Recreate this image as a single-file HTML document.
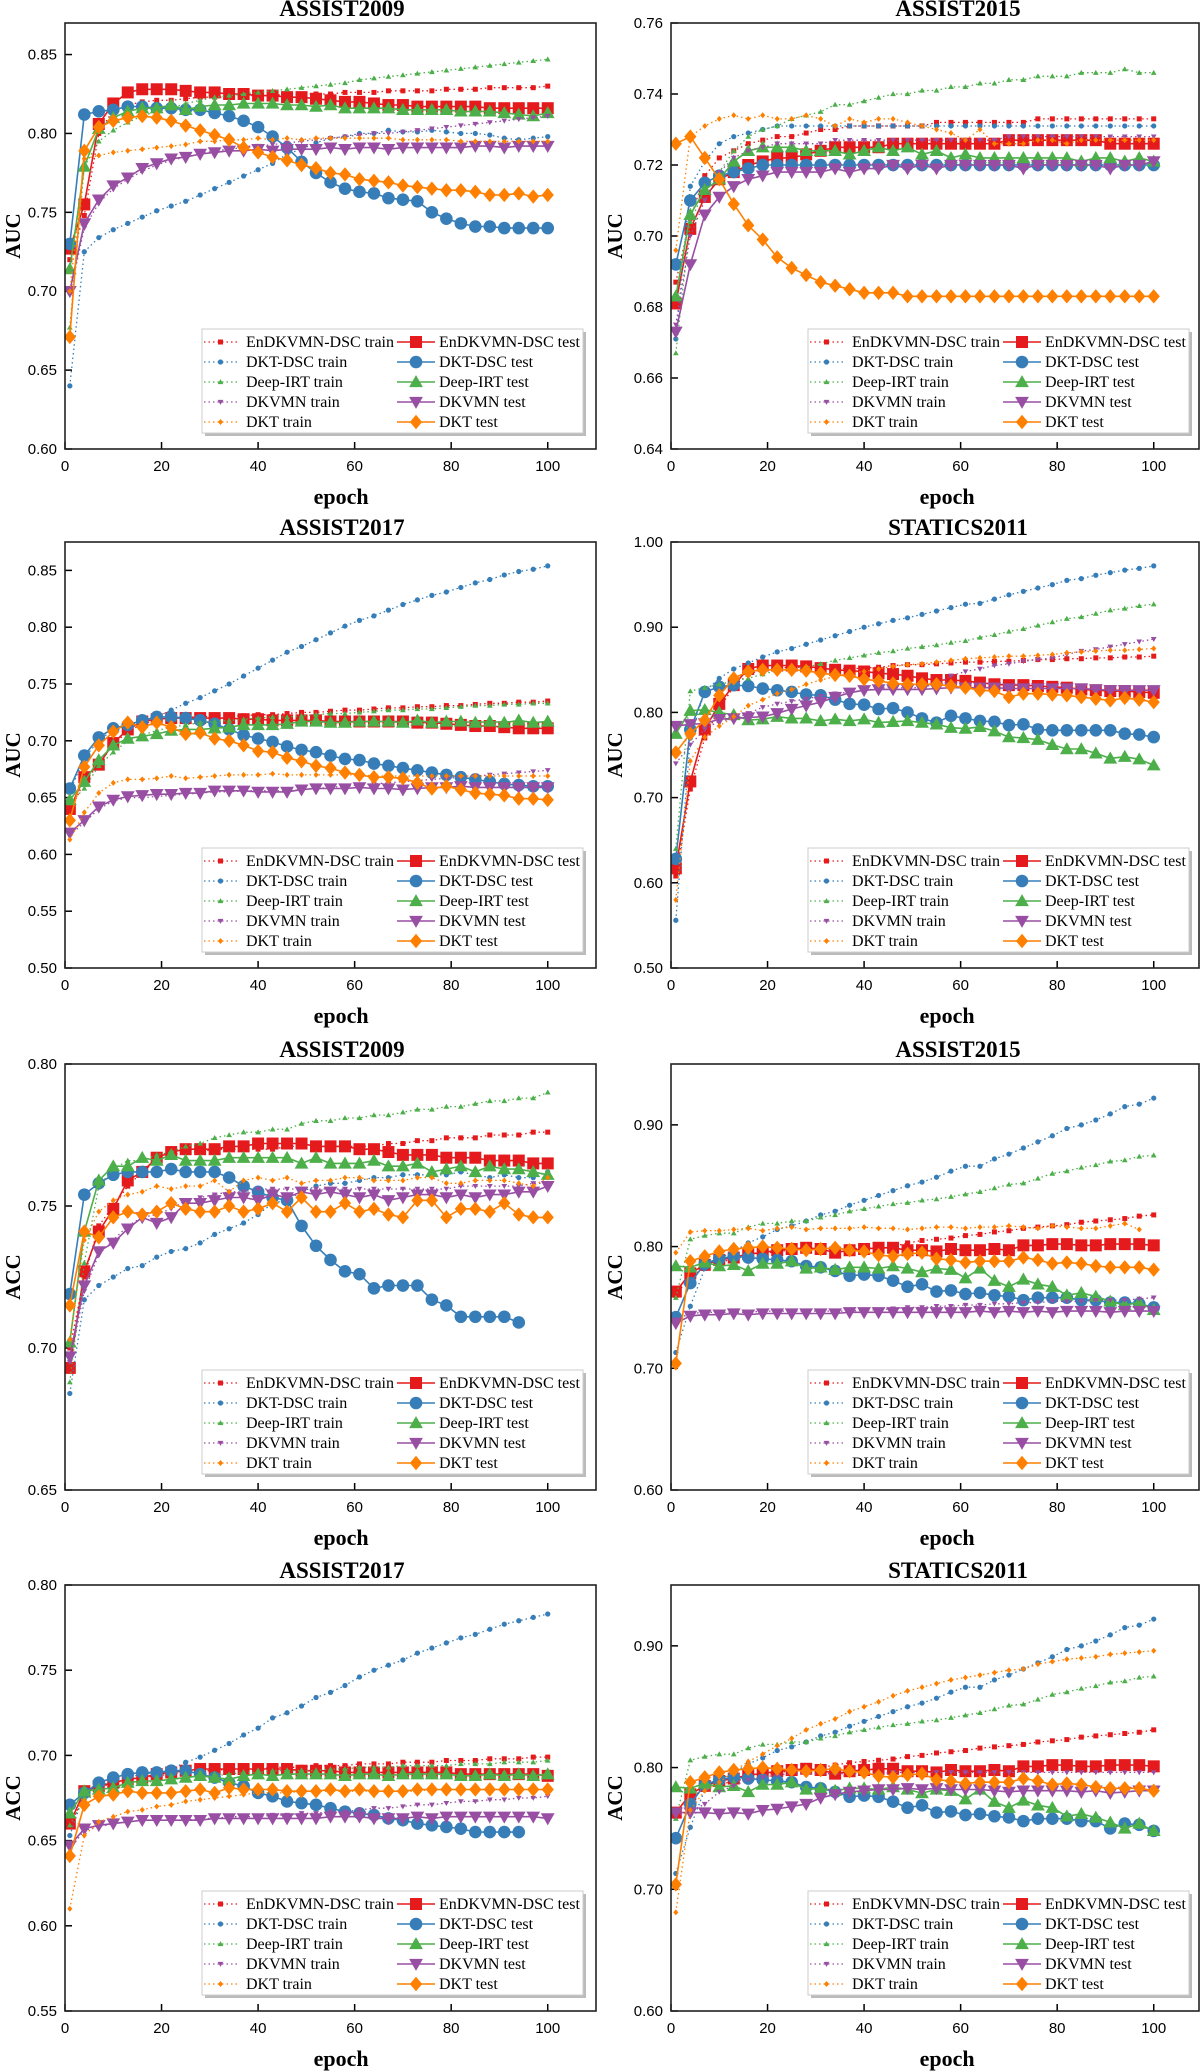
<!DOCTYPE html>
<html><head><meta charset="utf-8"><title>Training curves</title>
<style>
html,body{margin:0;padding:0;background:#fff;}
svg{display:block;}
</style></head>
<body>
<svg id="fig" xmlns="http://www.w3.org/2000/svg" width="1200" height="2072" viewBox="0 0 1200 2072"></svg>
<script>
const epochs = [1,4,7,10,13,16,19,22,25,28,31,34,37,40,43,46,49,52,55,58,61,64,67,70,73,76,79,82,85,88,91,94,97,100];
const seriesNames = ['EnDKVMN-DSC train','EnDKVMN-DSC test','DKT-DSC train','DKT-DSC test','Deep-IRT train','Deep-IRT test','DKVMN train','DKVMN test','DKT train','DKT test'];
const xTicks = [0,20,40,60,80,100];

// Panel 1: AUC ASSIST2009
const p1_en_tr=[.720,.748,.800,.815,.818,.820,.821,.821,.822,.823,.823,.823,.824,.824,.824,.825,.825,.825,.825,.826,.826,.826,.827,.827,.827,.827,.828,.828,.828,.829,.829,.829,.829,.830];
const p1_en_te=[.727,.755,.806,.819,.826,.828,.828,.828,.827,.826,.826,.825,.825,.824,.824,.823,.823,.822,.821,.820,.820,.819,.818,.818,.817,.817,.817,.817,.817,.816,.816,.816,.816,.816];
const p1_dsc_tr=[.640,.725,.734,.739,.743,.747,.751,.754,.757,.761,.765,.769,.773,.777,.781,.787,.790,.794,.797,.798,.800,.800,.802,.801,.801,.802,.801,.800,.800,.799,.797,.796,.797,.798];
const p1_dsc_te=[.730,.812,.814,.815,.817,.817,.816,.816,.815,.815,.813,.811,.808,.804,.798,.791,.782,.775,.769,.765,.763,.762,.759,.758,.757,.750,.746,.743,.741,.741,.740,.740,.740,.740];
const p1_irt_tr=[.677,.779,.795,.802,.807,.811,.814,.816,.819,.821,.823,.824,.825,.826,.827,.828,.829,.830,.831,.832,.834,.835,.836,.837,.838,.839,.840,.841,.842,.843,.844,.845,.846,.847];
const p1_irt_te=[.714,.779,.803,.810,.814,.816,.816,.818,.815,.817,.818,.818,.819,.819,.819,.818,.818,.817,.818,.816,.816,.816,.816,.815,.815,.815,.815,.814,.814,.814,.813,.812,.811,.813];
const p1_kv_tr=[.698,.740,.756,.765,.771,.776,.780,.783,.785,.787,.789,.790,.791,.792,.793,.794,.795,.796,.797,.798,.799,.800,.800,.801,.802,.803,.804,.805,.806,.807,.808,.809,.810,.811];
const p1_kv_te=[.700,.743,.758,.767,.772,.778,.781,.784,.785,.787,.788,.789,.789,.790,.789,.790,.790,.790,.791,.790,.791,.791,.790,.791,.791,.791,.791,.791,.792,.792,.791,.792,.792,.792];
const p1_dkt_tr=[.700,.784,.786,.788,.789,.790,.791,.792,.793,.795,.795,.796,.796,.797,.796,.797,.796,.797,.797,.797,.797,.797,.797,.796,.796,.796,.796,.795,.795,.795,.795,.795,.795,.795];
const p1_dkt_te=[.671,.789,.804,.808,.810,.811,.810,.808,.805,.802,.799,.796,.791,.788,.785,.783,.780,.778,.775,.774,.771,.770,.769,.767,.766,.765,.764,.764,.763,.761,.761,.762,.760,.761];

// Panel 2: AUC ASSIST2015
const p2_en_tr=[.687,.705,.717,.722,.724,.726,.727,.728,.728,.729,.730,.730,.731,.731,.731,.731,.731,.731,.732,.732,.732,.732,.732,.732,.732,.733,.733,.733,.733,.733,.733,.733,.733,.733];
const p2_en_te=[.681,.702,.711,.716,.718,.720,.721,.722,.722,.723,.724,.725,.725,.725,.725,.726,.726,.726,.726,.726,.726,.726,.726,.727,.727,.727,.727,.727,.727,.727,.726,.726,.726,.726];
const p2_dsc_tr=[.671,.714,.721,.726,.728,.729,.730,.731,.731,.731,.731,.731,.731,.731,.731,.731,.731,.731,.731,.731,.731,.731,.731,.731,.731,.731,.731,.731,.731,.731,.731,.731,.731,.731];
const p2_dsc_te=[.692,.710,.715,.717,.718,.719,.720,.720,.720,.720,.720,.720,.720,.720,.720,.720,.720,.720,.720,.720,.720,.720,.720,.720,.720,.720,.720,.720,.720,.720,.720,.720,.720,.720];
const p2_irt_tr=[.667,.704,.713,.718,.724,.728,.730,.731,.733,.734,.735,.737,.737,.738,.739,.740,.740,.741,.741,.742,.742,.743,.743,.744,.744,.745,.745,.745,.746,.746,.746,.747,.746,.746];
const p2_irt_te=[.683,.706,.713,.716,.721,.724,.725,.725,.725,.724,.724,.724,.723,.724,.725,.724,.725,.723,.724,.722,.723,.722,.722,.722,.722,.722,.722,.722,.721,.722,.722,.721,.722,.721];
const p2_kv_tr=[.675,.700,.710,.718,.722,.724,.725,.726,.726,.726,.726,.727,.727,.727,.727,.727,.727,.727,.727,.727,.727,.727,.727,.728,.728,.728,.728,.728,.728,.728,.728,.728,.728,.728];
const p2_kv_te=[.673,.692,.706,.711,.714,.716,.717,.718,.718,.718,.718,.719,.718,.719,.719,.720,.719,.720,.719,.720,.720,.720,.720,.720,.719,.720,.720,.720,.720,.720,.719,.720,.720,.721];
const p2_dkt_tr=[.696,.728,.731,.733,.734,.733,.734,.733,.733,.734,.733,.731,.733,.732,.733,.733,.732,.731,.730,.729,.727,.730,.726,.726,.726,.727,.727,.726,.727,.727,.727,.727,.727,.727];
const p2_dkt_te=[.726,.728,.722,.716,.709,.703,.699,.694,.691,.689,.687,.686,.685,.684,.684,.684,.683,.683,.683,.683,.683,.683,.683,.683,.683,.683,.683,.683,.683,.683,.683,.683,.683,.683];

// Panel 3: AUC ASSIST2017
const p3_en_tr=[.638,.664,.679,.697,.708,.715,.718,.720,.721,.721,.722,.722,.722,.723,.723,.724,.725,.725,.726,.727,.727,.728,.729,.729,.730,.730,.731,.731,.732,.733,.733,.734,.734,.735];
const p3_en_te=[.640,.668,.679,.698,.710,.717,.719,.720,.720,.720,.720,.720,.719,.719,.718,.718,.718,.718,.717,.717,.717,.717,.717,.717,.716,.716,.715,.714,.713,.713,.712,.711,.711,.711];
const p3_dsc_tr=[.655,.685,.700,.710,.713,.717,.721,.727,.733,.738,.744,.750,.757,.764,.771,.778,.783,.789,.795,.801,.806,.810,.815,.820,.824,.828,.831,.835,.839,.842,.846,.849,.851,.854];
const p3_dsc_te=[.658,.687,.703,.711,.714,.718,.721,.721,.720,.718,.715,.710,.705,.702,.699,.695,.692,.690,.687,.684,.683,.680,.678,.676,.674,.672,.670,.668,.666,.664,.662,.661,.660,.660];
const p3_irt_tr=[.645,.658,.678,.690,.700,.705,.709,.712,.714,.716,.717,.718,.719,.720,.721,.721,.722,.723,.724,.724,.725,.726,.727,.727,.728,.728,.729,.730,.731,.731,.732,.732,.733,.733];
const p3_irt_te=[.648,.664,.683,.696,.702,.704,.706,.709,.710,.710,.711,.712,.714,.714,.714,.715,.717,.717,.716,.716,.717,.717,.717,.716,.718,.716,.717,.717,.716,.717,.716,.718,.716,.717];
const p3_kv_tr=[.617,.628,.640,.647,.650,.650,.651,.652,.653,.654,.655,.655,.656,.656,.656,.656,.657,.658,.659,.660,.661,.662,.663,.664,.665,.666,.667,.668,.669,.670,.671,.672,.673,.674];
const p3_kv_te=[.619,.630,.642,.648,.651,.652,.653,.653,.654,.654,.656,.656,.656,.655,.655,.655,.657,.658,.658,.658,.659,.658,.658,.657,.658,.659,.659,.660,.659,.659,.659,.659,.659,.659];
const p3_dkt_tr=[.613,.637,.654,.663,.666,.666,.667,.669,.667,.668,.669,.670,.670,.670,.671,.670,.670,.670,.670,.670,.670,.669,.669,.669,.669,.669,.669,.669,.669,.669,.669,.669,.669,.669];
const p3_dkt_te=[.630,.677,.696,.708,.716,.712,.716,.712,.706,.707,.702,.700,.696,.691,.690,.685,.682,.678,.676,.672,.670,.668,.668,.667,.663,.658,.660,.657,.654,.653,.652,.649,.649,.648];

// Panel 4: AUC STATICS2011
const p4_en_tr=[.608,.710,.770,.805,.830,.845,.850,.852,.853,.853,.853,.852,.851,.852,.853,.855,.856,.856,.857,.858,.859,.859,.860,.860,.861,.862,.862,.863,.863,.864,.864,.865,.865,.866];
const p4_en_te=[.617,.719,.780,.810,.832,.851,.855,.855,.855,.854,.852,.850,.849,.848,.846,.845,.843,.840,.838,.838,.837,.835,.833,.832,.832,.831,.830,.829,.827,.826,.825,.825,.824,.823];
const p4_dsc_tr=[.556,.770,.825,.840,.851,.858,.865,.871,.875,.880,.885,.890,.895,.900,.904,.908,.911,.915,.919,.923,.927,.928,.933,.938,.942,.946,.950,.955,.957,.961,.964,.967,.969,.972];
const p4_dsc_te=[.628,.780,.824,.830,.832,.831,.828,.826,.824,.821,.820,.815,.810,.809,.804,.805,.800,.793,.788,.796,.793,.790,.789,.785,.786,.780,.779,.779,.779,.779,.779,.775,.774,.771];
const p4_irt_tr=[.640,.825,.829,.833,.837,.840,.845,.849,.851,.853,.857,.861,.864,.867,.870,.872,.875,.877,.879,.882,.884,.888,.891,.895,.898,.902,.906,.910,.912,.916,.920,.922,.925,.927];
const p4_irt_te=[.775,.802,.803,.800,.797,.791,.792,.795,.793,.793,.790,.792,.790,.792,.788,.789,.790,.788,.786,.782,.781,.783,.778,.771,.770,.768,.762,.757,.757,.752,.746,.748,.745,.738];
const p4_kv_tr=[.740,.762,.780,.790,.792,.799,.806,.810,.813,.816,.819,.822,.824,.826,.828,.830,.828,.830,.833,.843,.848,.851,.855,.857,.860,.862,.864,.868,.872,.874,.877,.880,.883,.886];
const p4_kv_te=[.784,.786,.787,.792,.793,.794,.795,.799,.804,.808,.812,.818,.823,.826,.827,.827,.827,.827,.828,.829,.829,.829,.829,.828,.828,.828,.828,.828,.828,.827,.826,.826,.826,.826];
const p4_dkt_tr=[.580,.743,.771,.784,.795,.808,.815,.822,.827,.833,.838,.842,.846,.848,.851,.854,.856,.857,.859,.861,.863,.864,.865,.866,.866,.867,.868,.870,.871,.872,.873,.873,.874,.875];
const p4_dkt_te=[.753,.775,.791,.820,.840,.848,.850,.850,.850,.849,.846,.844,.843,.839,.837,.834,.833,.833,.833,.831,.829,.826,.825,.818,.822,.822,.821,.820,.818,.816,.814,.817,.815,.812];

// Panel 5: ACC ASSIST2009
const p5_en_tr=[.700,.725,.743,.750,.757,.762,.766,.768,.769,.769,.770,.770,.770,.770,.770,.771,.771,.771,.771,.771,.771,.771,.772,.772,.773,.773,.774,.774,.774,.775,.775,.775,.776,.776];
const p5_en_te=[.693,.727,.741,.749,.759,.762,.767,.769,.770,.770,.770,.771,.771,.772,.772,.772,.772,.771,.771,.771,.770,.770,.769,.768,.768,.768,.767,.767,.767,.766,.766,.766,.765,.765];
const p5_dsc_tr=[.684,.717,.722,.725,.728,.729,.732,.734,.735,.737,.740,.742,.744,.747,.751,.752,.755,.757,.758,.758,.759,.760,.760,.761,.761,.761,.761,.762,.761,.760,.761,.760,.760,.762];
const p5_dsc_te=[.719,.754,.758,.761,.762,.762,.762,.763,.762,.762,.762,.760,.757,.755,.753,.752,.743,.736,.731,.727,.726,.721,.722,.722,.722,.717,.715,.711,.711,.711,.711,.709,null,null];
const p5_irt_tr=[.688,.730,.757,.763,.766,.766,.768,.769,.771,.772,.774,.775,.776,.776,.777,.777,.779,.780,.780,.781,.781,.782,.782,.783,.784,.784,.785,.785,.786,.787,.787,.788,.788,.790];
const p5_irt_te=[.702,.741,.759,.764,.764,.767,.766,.768,.766,.766,.766,.767,.767,.767,.767,.767,.765,.767,.765,.765,.765,.766,.764,.764,.765,.762,.763,.764,.762,.764,.763,.763,.762,.761];
const p5_kv_tr=[.695,.720,.733,.738,.743,.746,.747,.749,.752,.753,.754,.755,.755,.756,.756,.756,.756,.756,.756,.756,.756,.756,.756,.756,.756,.756,.756,.757,.757,.757,.757,.757,.758,.758];
const p5_kv_te=[.697,.722,.734,.737,.742,.746,.744,.746,.751,.751,.752,.753,.753,.752,.754,.753,.755,.754,.755,.754,.753,.754,.752,.753,.754,.754,.753,.754,.753,.754,.754,.755,.755,.757];
const p5_dkt_tr=[.703,.738,.748,.752,.754,.755,.757,.756,.757,.757,.759,.755,.759,.760,.759,.760,.758,.759,.759,.760,.760,.759,.759,.759,.760,.760,.758,.758,.759,.759,.759,.758,.757,.760];
const p5_dkt_te=[.715,.741,.739,.746,.748,.747,.748,.751,.749,.748,.748,.750,.748,.749,.751,.748,.753,.748,.748,.751,.748,.749,.747,.746,.752,.752,.746,.749,.749,.748,.751,.747,.746,.746];

// Panel 6: ACC ASSIST2015
const p6_en_tr=[.760,.776,.782,.787,.790,.792,.794,.796,.797,.798,.798,.798,.798,.799,.799,.800,.803,.805,.806,.807,.809,.810,.812,.813,.815,.816,.817,.818,.820,.821,.822,.823,.825,.826];
const p6_en_te=[.763,.778,.785,.789,.791,.794,.795,.797,.798,.799,.798,.795,.797,.798,.799,.799,.797,.797,.796,.798,.797,.797,.798,.797,.801,.801,.802,.802,.801,.801,.802,.802,.802,.801];
const p6_dsc_tr=[.713,.751,.782,.790,.796,.803,.808,.814,.817,.821,.826,.829,.834,.838,.842,.846,.850,.853,.857,.862,.866,.866,.872,.876,.881,.886,.891,.897,.900,.904,.909,.915,.917,.922];
const p6_dsc_te=[.742,.770,.786,.790,.792,.791,.790,.789,.788,.784,.783,.780,.776,.777,.776,.772,.767,.769,.763,.764,.761,.762,.760,.759,.756,.758,.758,.758,.756,.756,.754,.754,.753,.750];
const p6_irt_tr=[.758,.806,.809,.811,.811,.816,.819,.819,.821,.821,.824,.826,.829,.831,.833,.835,.836,.838,.839,.841,.843,.845,.848,.851,.852,.856,.860,.862,.865,.867,.870,.871,.874,.875];
const p6_irt_te=[.784,.783,.787,.784,.785,.780,.786,.786,.788,.782,.783,.781,.783,.783,.782,.784,.782,.779,.782,.781,.774,.782,.772,.767,.773,.769,.767,.760,.762,.759,.755,.752,.754,.748];
const p6_kv_tr=[.740,.745,.746,.746,.746,.746,.747,.747,.747,.747,.747,.747,.747,.748,.748,.749,.750,.750,.751,.751,.752,.752,.753,.753,.754,.754,.755,.755,.755,.756,.756,.756,.757,.758];
const p6_kv_te=[.737,.743,.744,.744,.745,.744,.745,.745,.745,.745,.745,.745,.746,.746,.746,.746,.746,.746,.746,.746,.746,.747,.746,.747,.746,.747,.746,.747,.747,.747,.746,.747,.747,.747];
const p6_dkt_tr=[.795,.812,.813,.813,.814,.815,.813,.815,.816,.814,.815,.815,.815,.816,.815,.815,.814,.815,.816,.816,.815,.816,.816,.817,.816,.815,.817,.816,.815,.815,.817,.819,.814,null];
const p6_dkt_te=[.704,.788,.792,.796,.798,.799,.800,.799,.798,.797,.798,.799,.797,.796,.793,.792,.794,.795,.790,.789,.787,.788,.788,.788,.791,.789,.786,.787,.786,.784,.783,.783,.783,.781];

// Panel 7: ACC ASSIST2017
const p7_en_tr=[.658,.677,.681,.684,.686,.687,.688,.689,.690,.691,.691,.692,.692,.692,.693,.693,.693,.694,.694,.694,.695,.695,.695,.696,.696,.696,.697,.697,.697,.698,.698,.698,.699,.699];
const p7_en_te=[.660,.679,.682,.684,.686,.687,.689,.690,.691,.692,.692,.692,.692,.692,.692,.692,.691,.691,.691,.690,.690,.690,.690,.690,.690,.690,.690,.689,.689,.689,.689,.689,.689,.688];
const p7_dsc_tr=[.653,.678,.682,.685,.687,.689,.690,.692,.696,.699,.703,.707,.712,.716,.722,.725,.729,.734,.737,.741,.746,.750,.753,.756,.760,.763,.766,.769,.771,.774,.777,.779,.781,.783];
const p7_dsc_te=[.671,.678,.684,.687,.689,.690,.690,.691,.691,.689,.687,.684,.682,.678,.676,.673,.672,.671,.669,.667,.666,.665,.663,.662,.660,.659,.658,.657,.655,.655,.655,.655,null,null];
const p7_irt_tr=[.659,.675,.676,.680,.683,.684,.685,.686,.687,.688,.688,.689,.690,.690,.691,.691,.691,.691,.692,.692,.693,.693,.693,.694,.694,.694,.694,.695,.695,.695,.696,.696,.696,.697];
const p7_irt_te=[.666,.679,.680,.681,.684,.685,.685,.686,.687,.688,.687,.686,.688,.689,.688,.689,.689,.689,.689,.688,.689,.689,.688,.689,.689,.689,.689,.688,.688,.689,.688,.689,.688,.689];
const p7_kv_tr=[.645,.656,.658,.660,.661,.662,.662,.662,.662,.663,.663,.664,.664,.664,.665,.665,.666,.666,.667,.667,.668,.669,.669,.670,.671,.671,.672,.673,.673,.674,.674,.675,.675,.676];
const p7_kv_te=[.647,.657,.659,.660,.661,.662,.662,.662,.662,.662,.663,.663,.663,.663,.663,.663,.663,.663,.664,.664,.664,.663,.663,.663,.664,.663,.664,.664,.664,.664,.664,.664,.664,.663];
const p7_dkt_tr=[.610,.653,.661,.664,.667,.668,.670,.671,.673,.674,.675,.676,.677,.678,.678,.678,.679,.679,.679,.679,.679,.679,.679,.679,.679,.680,.680,.680,.680,.680,.680,.680,.680,.680];
const p7_dkt_te=[.641,.671,.676,.677,.679,.678,.678,.678,.679,.680,.678,.681,.680,.680,.680,.679,.679,.679,.680,.679,.680,.679,.679,.679,.680,.680,.680,.680,.680,.680,.680,.680,.680,.680];

// Panel 8: ACC STATICS2011
const p8_en_tr=[.760,.776,.782,.786,.789,.791,.793,.796,.797,.798,.800,.802,.804,.805,.806,.807,.809,.810,.812,.813,.814,.816,.817,.818,.819,.821,.822,.823,.825,.826,.827,.828,.829,.831];
const p8_en_te=[.763,.778,.785,.789,.791,.794,.795,.797,.798,.799,.798,.795,.797,.798,.799,.799,.797,.797,.796,.798,.797,.797,.798,.797,.801,.801,.802,.802,.801,.801,.802,.802,.802,.801];
const p8_dsc_tr=[.713,.751,.782,.790,.796,.803,.808,.814,.817,.821,.826,.829,.834,.838,.842,.846,.850,.853,.857,.862,.866,.866,.872,.876,.881,.886,.891,.897,.900,.904,.909,.915,.917,.922];
const p8_dsc_te=[.742,.770,.786,.790,.792,.791,.790,.789,.788,.784,.783,.780,.776,.777,.776,.772,.767,.769,.763,.764,.761,.762,.760,.759,.756,.758,.758,.758,.756,.756,.750,.754,.753,.748];
const p8_irt_tr=[.758,.806,.809,.811,.811,.816,.819,.819,.821,.821,.824,.826,.829,.831,.833,.835,.836,.838,.839,.841,.843,.845,.848,.851,.852,.856,.860,.862,.865,.867,.870,.871,.874,.875];
const p8_irt_te=[.784,.783,.787,.784,.785,.780,.786,.786,.788,.782,.783,.781,.783,.783,.782,.784,.782,.779,.782,.781,.774,.782,.772,.767,.773,.769,.767,.760,.762,.759,.755,.750,.754,.748];
const p8_kv_tr=[.760,.764,.770,.780,.785,.790,.792,.794,.795,.795,.795,.795,.795,.795,.795,.796,.796,.796,.796,.796,.796,.796,.796,.796,.796,.796,.796,.796,.796,.796,.796,.796,.796,.796];
const p8_kv_te=[.763,.763,.763,.762,.763,.762,.765,.766,.768,.770,.775,.778,.780,.781,.782,.782,.783,.782,.783,.782,.782,.782,.781,.780,.781,.781,.781,.781,.780,.781,.779,.780,.781,.781];
const p8_dkt_tr=[.681,.765,.781,.788,.797,.805,.811,.818,.824,.831,.836,.840,.846,.850,.854,.859,.863,.866,.869,.872,.874,.876,.878,.880,.881,.885,.887,.889,.890,.891,.893,.894,.895,.896];
const p8_dkt_te=[.704,.788,.792,.796,.798,.799,.800,.799,.798,.797,.798,.799,.797,.796,.793,.792,.794,.795,.790,.789,.787,.788,.788,.788,.791,.789,.786,.787,.786,.784,.783,.783,.783,.781];

const p1_yticks=[.60,.65,.70,.75,.80,.85];
const p2_yticks=[.64,.66,.68,.70,.72,.74,.76];
const p3_yticks=[.50,.55,.60,.65,.70,.75,.80,.85];
const p4_yticks=[.50,.60,.70,.80,.90,1.00];
const p5_yticks=[.65,.70,.75,.80];
const p6_yticks=[.60,.70,.80,.90];
const p7_yticks=[.55,.60,.65,.70,.75,.80];
const p8_yticks=[.60,.70,.80,.90];

const panels=[
 {id:'auc-assist2009',title:'ASSIST2009',yl:'AUC',col:0,row:0,ymin:.60,ymax:.87,yt:p1_yticks,s:[p1_en_tr,p1_en_te,p1_dsc_tr,p1_dsc_te,p1_irt_tr,p1_irt_te,p1_kv_tr,p1_kv_te,p1_dkt_tr,p1_dkt_te]},
 {id:'auc-assist2015',title:'ASSIST2015',yl:'AUC',col:1,row:0,ymin:.64,ymax:.76,yt:p2_yticks,s:[p2_en_tr,p2_en_te,p2_dsc_tr,p2_dsc_te,p2_irt_tr,p2_irt_te,p2_kv_tr,p2_kv_te,p2_dkt_tr,p2_dkt_te]},
 {id:'auc-assist2017',title:'ASSIST2017',yl:'AUC',col:0,row:1,ymin:.50,ymax:.875,yt:p3_yticks,s:[p3_en_tr,p3_en_te,p3_dsc_tr,p3_dsc_te,p3_irt_tr,p3_irt_te,p3_kv_tr,p3_kv_te,p3_dkt_tr,p3_dkt_te]},
 {id:'auc-statics2011',title:'STATICS2011',yl:'AUC',col:1,row:1,ymin:.50,ymax:1.00,yt:p4_yticks,s:[p4_en_tr,p4_en_te,p4_dsc_tr,p4_dsc_te,p4_irt_tr,p4_irt_te,p4_kv_tr,p4_kv_te,p4_dkt_tr,p4_dkt_te]},
 {id:'acc-assist2009',title:'ASSIST2009',yl:'ACC',col:0,row:2,ymin:.65,ymax:.80,yt:p5_yticks,s:[p5_en_tr,p5_en_te,p5_dsc_tr,p5_dsc_te,p5_irt_tr,p5_irt_te,p5_kv_tr,p5_kv_te,p5_dkt_tr,p5_dkt_te]},
 {id:'acc-assist2015',title:'ASSIST2015',yl:'ACC',col:1,row:2,ymin:.60,ymax:.95,yt:p6_yticks,s:[p6_en_tr,p6_en_te,p6_dsc_tr,p6_dsc_te,p6_irt_tr,p6_irt_te,p6_kv_tr,p6_kv_te,p6_dkt_tr,p6_dkt_te]},
 {id:'acc-assist2017',title:'ASSIST2017',yl:'ACC',col:0,row:3,ymin:.55,ymax:.80,yt:p7_yticks,s:[p7_en_tr,p7_en_te,p7_dsc_tr,p7_dsc_te,p7_irt_tr,p7_irt_te,p7_kv_tr,p7_kv_te,p7_dkt_tr,p7_dkt_te]},
 {id:'acc-statics2011',title:'STATICS2011',yl:'ACC',col:1,row:3,ymin:.60,ymax:.95,yt:p8_yticks,s:[p8_en_tr,p8_en_te,p8_dsc_tr,p8_dsc_te,p8_irt_tr,p8_irt_te,p8_kv_tr,p8_kv_te,p8_dkt_tr,p8_dkt_te]}
];

const NS='http://www.w3.org/2000/svg';
const svg=document.getElementById('fig');
const COLORS=['#e41a1c','#377eb8','#4daf4a','#984ea3','#ff7f00'];
const MARKS=['square','circle','tri','tridown','diamond'];
const COLX=[65,671], ROWY=[23,542,1064,1585], BW=531, BH=426, XMAX=110;
function el(tag,attrs,parent){const e=document.createElementNS(NS,tag);for(const k in attrs)e.setAttribute(k,attrs[k]);(parent||svg).appendChild(e);return e;}
function marker(g,type,cx,cy,sz,color){
  let m;const h=sz/2;
  if(type==='square'){m=el('rect',{x:cx-h,y:cy-h,width:sz,height:sz,fill:color},g);}
  else if(type==='circle'){m=el('circle',{cx:cx,cy:cy,r:h*1.05,fill:color},g);}
  else if(type==='tri'){const a=h*1.15;m=el('polygon',{points:`${cx},${cy-a} ${cx+a},${cy+a*0.75} ${cx-a},${cy+a*0.75}`,fill:color},g);}
  else if(type==='tridown'){const a=h*1.15;m=el('polygon',{points:`${cx},${cy+a} ${cx+a},${cy-a*0.75} ${cx-a},${cy-a*0.75}`,fill:color},g);}
  else {const a=h*1.2;m=el('polygon',{points:`${cx},${cy-a} ${cx+a*0.85},${cy} ${cx},${cy+a} ${cx-a*0.85},${cy}`,fill:color},g);}
  return m;
}
panels.forEach((p,pi)=>{
  const L=COLX[p.col], T=ROWY[p.row], R=Math.min(L+BW,1199), B=T+BH;
  const xs=e=>L+e/XMAX*BW;
  const ys=v=>B-(v-p.ymin)/(p.ymax-p.ymin)*BH;
  const g=el('g',{});
  
  
  const cid='clip'+pi;
  const cp=el('clipPath',{id:cid},g);el('rect',{x:L,y:T,width:R-L,height:BH},cp);
  // title
  const t=el('text',{x:p.col?958:342,y:T-7,'text-anchor':'middle','font-family':'Liberation Serif, serif','font-weight':'bold','font-size':23},g);
  t.textContent=p.title;
  
  
  // y label
  const yl=el('text',{x:0,y:0,transform:`translate(${p.col?622:20},${T+BH/2}) rotate(-90)`,'text-anchor':'middle','font-family':'Liberation Serif, serif','font-weight':'bold','font-size':21},g);
  yl.textContent=p.yl;
  
  
  // x label
  const xl=el('text',{x:L+BW*0.52,y:B+55,'text-anchor':'middle','font-family':'Liberation Serif, serif','font-weight':'bold','font-size':22},g);
  xl.textContent='epoch';
  
  
  // y ticks
  p.yt.forEach(v=>{
    const y=ys(v);
    el('line',{x1:L,x2:L+7,y1:y,y2:y,stroke:'#000','stroke-width':1.5},g);
    const tl=el('text',{x:L-8,y:y+5,'text-anchor':'end','font-family':'Liberation Sans, sans-serif','font-size':15},g);
    tl.textContent=v.toFixed(2);
    
    
  });
  xTicks.forEach(v=>{
    const x=xs(v);
    el('line',{x1:x,x2:x,y1:B,y2:B-7,stroke:'#000','stroke-width':1.5},g);
    const tl=el('text',{x:x,y:B+22,'text-anchor':'middle','font-family':'Liberation Sans, sans-serif','font-size':15},g);
    tl.textContent=String(v);
    
    
  });
  // series
  const sg=el('g',{'clip-path':`url(#${cid})`},g);
  p.s.forEach((arr,si)=>{
    const c=COLORS[si>>1], mk=MARKS[si>>1], test=si%2===1;
    const ser=el('g',{},sg);
    
    
    let d='',pen=false;
    arr.forEach((v,i)=>{ if(v===null){pen=false;return;} d+=(pen?'L':'M')+xs(epochs[i]).toFixed(1)+' '+ys(v).toFixed(1)+' '; pen=true; });
    const path=el('path',{d:d,fill:'none',stroke:c,'stroke-width':test?1.6:1.3},ser);
    if(!test) path.setAttribute('stroke-dasharray','1.5 3');
    
    
    arr.forEach((v,i)=>{ if(v===null)return;
      const m=marker(ser,mk,xs(epochs[i]),ys(v),test?12:5,c);
      
      
    });
  });
  // box
  el('rect',{x:L,y:T,width:R-L,height:BH,fill:'none',stroke:'#222','stroke-width':1.6},g);
  // legend
  const lg=el('g',{},g);
  
  
  const lx=L+137, ly=T+306;
  el('rect',{x:lx+3,y:ly+3,width:381,height:104,fill:'#bbb'},lg);
  el('rect',{x:lx,y:ly,width:381,height:104,fill:'#fff',stroke:'#ccc','stroke-width':1},lg);
  for(let k=0;k<10;k++){
    const colI=k%2, rowI=k>>1, c=COLORS[rowI], mk=MARKS[rowI], test=colI===1;
    const cy=ly+13+rowI*20;
    const x1=colI?lx+195:lx+2, x2=colI?lx+233:lx+35, tx=colI?lx+237:lx+44;
    const ent=el('g',{},lg);
    
    
    const ln=el('line',{x1:x1,x2:x2,y1:cy,y2:cy,stroke:c,'stroke-width':test?1.6:1.3},ent);
    if(!test) ln.setAttribute('stroke-dasharray','1.5 3');
    marker(ent,mk,(x1+x2)/2,cy,test?12:5,c);
    const tt=el('text',{x:tx,y:cy+5,'font-family':'Liberation Serif, serif','font-size':16},ent);
    tt.textContent=seriesNames[k];
  }
});
</script>
</body></html>
